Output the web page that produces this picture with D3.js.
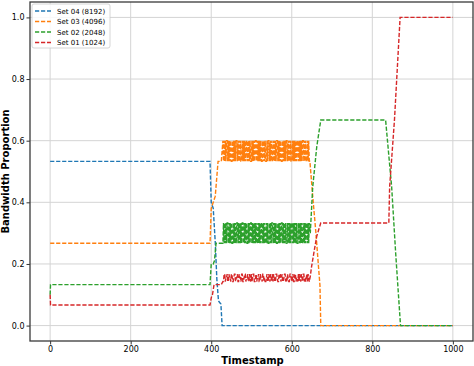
<!DOCTYPE html>
<html><head><meta charset="utf-8">
<script src="https://cdn.jsdelivr.net/npm/d3@7/dist/d3.min.js"></script>
<style>body{margin:0;background:#fff}svg{display:block}text{font-family:"DejaVu Sans",sans-serif}</style>
</head><body><svg id="c" width="474" height="366"></svg>
<script>
// ---------- data ----------
const seriesNames = ["Set 04 (8192)", "Set 03 (4096)", "Set 02 (2048)", "Set 01 (1024)"];
const xTicks = [0, 200, 400, 600, 800, 1000];
const yTicks = [0.0, 0.2, 0.4, 0.6, 0.8, 1.0];

// oscillation period timestamps
const bandT = [429,430.5,432,433.5,435,436.5,438,439.5,441,442.5,444,445.5,447,448.5,450,451.5,453,454.5,456,457.5,459,460.5,462,463.5,465,466.5,468,469.5,471,472.5,474,475.5,477,478.5,480,481.5,483,484.5,486,487.5,489,490.5,492,493.5,495,496.5,498,499.5,501,502.5,504,505.5,507,508.5,510,511.5,513,514.5,516,517.5,519,520.5,522,523.5,525,526.5,528,529.5,531,532.5,534,535.5,
 537,538.5,540,541.5,543,544.5,546,547.5,549,550.5,552,553.5,555,556.5,558,559.5,561,562.5,564,565.5,567,568.5,570,571.5,573,574.5,576,577.5,579,580.5,582,583.5,585,586.5,588,589.5,591,592.5,594,595.5,597,598.5,600,601.5,603,604.5,606,607.5,609,610.5,612,613.5,615,616.5,618,619.5,621,622.5,624,625.5,627,628.5,630,631.5,633,634.5,636,637.5,639,640.5,642,643.5];

// Set 04
const set04T = [0, 397, 400, 405, 410, 414, 418, 424, 427, 1000];
const set04V = [0.533, 0.533, 0.40, 0.38, 0.27, 0.15, 0.08, 0.07, 0.0, 0.0];

// Set 03
const set03PreT = [0, 397, 400, 405, 410, 417, 425];
const set03PreV = [0.267, 0.267, 0.38, 0.40, 0.42, 0.533, 0.533];
const set03Band = [
 .6,.533,.6,.533,.6,.533,.6,.6,.533,.6,.533,.6,
 .533,.6,.533,.533,.6,.533,.6,.533,.6,.533,.6,.6,
 .533,.6,.533,.6,.533,.6,.533,.533,.6,.533,.6,.533,
 .6,.533,.6,.6,.533,.6,.533,.6,.533,.6,.533,.533,
 .6,.533,.6,.533,.6,.533,.6,.6,.533,.6,.533,.6,
 .533,.6,.533,.6,.533,.533,.6,.533,.6,.533,.6,.533,
 .533,.6,.533,.6,.6,.533,.6,.533,.6,.533,.533,.6,
 .533,.6,.533,.6,.533,.6,.6,.533,.6,.533,.6,.533,
 .6,.533,.533,.6,.533,.6,.533,.6,.533,.6,.6,.533,
 .6,.533,.6,.533,.6,.533,.533,.6,.533,.6,.533,.6,
 .533,.6,.533,.6,.6,.533,.6,.533,.6,.533,.6,.533,
 .6,.6,.533,.6,.533,.6,.533,.533,.6,.533,.6,.533];
const set03PostT = [645, 652, 660, 667, 670, 672, 1000];
const set03PostV = [0.533, 0.42, 0.30, 0.18, 0.13, 0.0, 0.0];

// Set 02
const set02PreT = [0, 1, 397, 400, 405, 408, 412, 425];
const set02PreV = [0.1, 0.133, 0.133, 0.2, 0.2, 0.21, 0.267, 0.267];
const set02Band = [
 .267,.333,.267,.333,.267,.333,.267,.333,.333,.267,.333,.267,
 .333,.267,.333,.267,.267,.333,.267,.333,.267,.333,.267,.333,
 .333,.267,.333,.267,.333,.267,.333,.267,.333,.333,.267,.333,
 .267,.333,.267,.333,.267,.267,.333,.267,.333,.267,.333,.333,
 .267,.333,.267,.333,.267,.333,.267,.333,.267,.267,.333,.267,
 .333,.267,.333,.267,.333,.333,.267,.333,.267,.333,.267,.267,
 .333,.267,.333,.267,.267,.333,.267,.333,.267,.333,.333,.267,
 .333,.267,.333,.267,.333,.267,.267,.333,.267,.333,.267,.333,
 .267,.333,.333,.267,.333,.267,.333,.267,.333,.267,.267,.333,
 .267,.333,.267,.333,.267,.333,.333,.267,.333,.267,.333,.267,
 .333,.267,.333,.267,.267,.333,.267,.333,.267,.333,.267,.333,
 .267,.267,.333,.267,.333,.267,.333,.333,.267,.333,.267,.333];
const set02PostT = [646, 652, 662, 672, 833, 848, 858, 870, 1000];
const set02PostV = [0.30, 0.45, 0.58, 0.667, 0.667, 0.45, 0.235, 0.0, 0.0];

// Set 01
const set01PreT = [0, 1, 397, 400, 403, 407, 425];
const set01PreV = [0.1, 0.067, 0.067, 0.09, 0.1, 0.133, 0.133];
const set01Band = [
 .143,.143,.167,.167,.143,.155,.155,.167,.143,.143,.167,.155,
 .155,.143,.167,.167,.143,.143,.155,.167,.167,.143,.155,.155,
 .167,.143,.143,.167,.155,.155,.143,.167,.167,.143,.143,.155,
 .167,.167,.143,.155,.155,.167,.143,.143,.167,.155,.143,.167,
 .143,.155,.167,.167,.143,.143,.155,.167,.143,.155,.155,.167,
 .143,.143,.167,.155,.155,.143,.167,.167,.143,.155,.143,.143,
 .155,.167,.143,.143,.167,.155,.143,.167,.155,.143,.167,.143,
 .167,.155,.143,.143,.167,.167,.155,.143,.143,.167,.155,.167,
 .143,.155,.167,.143,.143,.155,.167,.167,.143,.155,.143,.167,
 .155,.143,.143,.167,.167,.155,.143,.155,.167,.143,.143,.167,
 .167,.143,.155,.155,.143,.167,.143,.167,.155,.143,.167,.155,
 .143,.167,.167,.143,.155,.143,.155,.167,.143,.167,.155,.143];
const set01PostT = [646, 649, 656, 662, 672, 841, 843, 855, 869, 1000];
const set01PostV = [0.16, 0.19, 0.245, 0.29, 0.333, 0.333, 0.45, 0.667, 1.0, 1.0];

// ---------- build ----------
const zip = (T, V) => T.map((t, i) => ({t, v: V[i]}));
const seriesData = [
  zip(set04T, set04V),
  [...zip(set03PreT, set03PreV), ...zip(bandT, set03Band), ...zip(set03PostT, set03PostV)],
  [...zip(set02PreT, set02PreV), ...zip(bandT, set02Band), ...zip(set02PostT, set02PostV)],
  [...zip(set01PreT, set01PreV), ...zip(bandT, set01Band), ...zip(set01PostT, set01PostV)]
];
const colors = ["#1f77b4", "#ff7f0e", "#2ca02c", "#d62728"];

const svg = d3.select("#c");
const L = 30, R = 473, T = 2, B = 341;
const x = d3.scaleLinear().domain([-50, 1050]).range([L, R]);
const y = d3.scaleLinear().domain([-0.05, 1.05]).range([B, T]);

// grid
const g = svg.append("g");
g.selectAll(".gx").data(xTicks).enter().append("line")
  .attr("x1", d => x(d)).attr("x2", d => x(d)).attr("y1", T).attr("y2", B)
  .attr("stroke", "#d4d4d4").attr("stroke-width", 1);
g.selectAll(".gy").data(yTicks).enter().append("line")
  .attr("x1", L).attr("x2", R).attr("y1", d => y(d)).attr("y2", d => y(d))
  .attr("stroke", "#d4d4d4").attr("stroke-width", 1);

// lines
svg.append("clipPath").attr("id", "clip").append("rect")
  .attr("x", L).attr("y", T).attr("width", R - L).attr("height", B - T);
const line = d3.line().x(d => x(d.t)).y(d => y(d.v));
svg.append("g").attr("clip-path", "url(#clip)")
  .selectAll("path").data(seriesData).enter().append("path")
  .attr("d", line).attr("fill", "none")
  .attr("stroke", (d, i) => colors[i]).attr("stroke-width", 1.4)
  .attr("stroke-dasharray", "4.2,1.8");

// axes
const xAxis = d3.axisBottom(x).tickValues(xTicks).tickFormat(d3.format("d")).tickSize(3.5).tickPadding(2);
const yAxis = d3.axisLeft(y).tickValues(yTicks).tickFormat(d3.format(".1f")).tickSize(3.5).tickPadding(2);
const ax = svg.append("g").attr("transform", `translate(0,${B})`).call(xAxis);
const ay = svg.append("g").attr("transform", `translate(${L},0)`).call(yAxis);
[ax, ay].forEach(a => {
  a.select(".domain").remove();
  a.selectAll("text").attr("font-size", 8).attr("fill", "#000").style("font-family", "DejaVu Sans");
  a.selectAll("line").attr("stroke", "#333");
});

// frame
svg.append("rect").attr("x", L).attr("y", T).attr("width", R - L).attr("height", B - T)
  .attr("fill", "none").attr("stroke", "#3a3a3a").attr("stroke-width", 1.3);

// axis titles
svg.append("text").attr("x", (L + R) / 2 + 1).attr("y", 364).attr("text-anchor", "middle")
  .attr("font-size", 10).attr("font-weight", "bold").text("Timestamp");
svg.append("text").attr("transform", `translate(9,${(T + B) / 2}) rotate(-90)`)
  .attr("text-anchor", "middle").attr("font-size", 10).attr("font-weight", "bold")
  .text("Bandwidth Proportion");

// legend
const lg = svg.append("g");
lg.append("rect").attr("x", 32).attr("y", 4).attr("width", 78).attr("height", 44).attr("rx", 2)
  .attr("fill", "#fff").attr("fill-opacity", 0.85).attr("stroke", "#ccc").attr("stroke-width", 0.8);
seriesNames.forEach((n, i) => {
  const yy = 11 + i * 10.5;
  lg.append("line").attr("x1", 35).attr("x2", 51).attr("y1", yy).attr("y2", yy)
    .attr("stroke", colors[i]).attr("stroke-width", 1.3).attr("stroke-dasharray", "4.2,1.8");
  lg.append("text").attr("x", 57).attr("y", yy + 2.5).attr("font-size", 7).text(n);
});
</script></body></html>
